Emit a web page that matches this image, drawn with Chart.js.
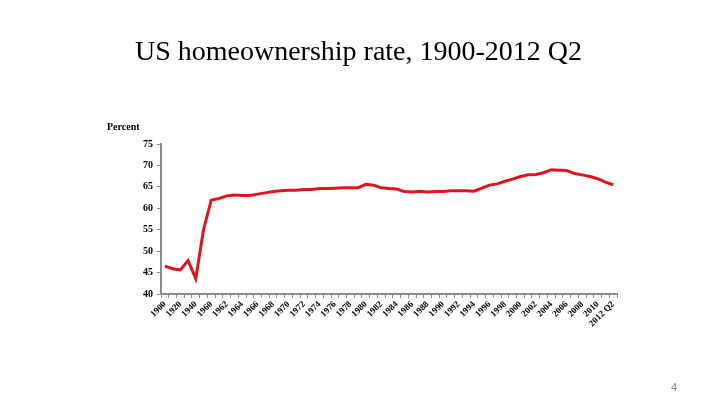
<!DOCTYPE html>
<html>
<head>
<meta charset="utf-8">
<script src="https://cdn.jsdelivr.net/npm/chart.js@4/dist/chart.umd.min.js"></script>
<style>
  html, body { margin: 0; padding: 0; background: #fff; }
  #wrap { position: relative; width: 720px; height: 405px; }
  #grafica { position: absolute; left: 0; top: 0; }
  .nota { position: absolute; white-space: nowrap; }
  #unidad { left: 107px; top: 121px; font: bold 10px "Liberation Serif", "Times New Roman", serif; color: #000; }
  #pagina { left: 671px; top: 381px; font: 11px "Liberation Sans", Arial, sans-serif; color: #7f7f7f; }
</style>
</head>
<body>
<div id="wrap">
  <canvas id="grafica" width="720" height="405"></canvas>
  <div class="nota" id="unidad">Percent</div>
  <div class="nota" id="pagina">4</div>
</div>
<script>
// Categorias: decenales hasta 1960, luego anuales, y el ultimo dato trimestral
const anios = ['1900', '1910', '1920', '1930', '1940', '1950', '1960',
  '1961', '1962', '1963', '1964', '1965', '1966', '1967', '1968', '1969', '1970',
  '1971', '1972', '1973', '1974', '1975', '1976', '1977', '1978', '1979', '1980',
  '1981', '1982', '1983', '1984', '1985', '1986', '1987', '1988', '1989', '1990',
  '1991', '1992', '1993', '1994', '1995', '1996', '1997', '1998', '1999', '2000',
  '2001', '2002', '2003', '2004', '2005', '2006', '2007', '2008', '2009', '2010',
  '2011', '2012 Q2'];

// Tasa de propiedad de vivienda (%)
const tasaPropiedad = [46.5, 45.9, 45.6, 47.8, 43.6, 55.0, 61.9,
  62.3, 62.9, 63.1, 63.0, 63.0, 63.3, 63.6, 63.9, 64.1, 64.2,
  64.2, 64.4, 64.4, 64.6, 64.6, 64.7, 64.8, 64.8, 64.8, 65.6,
  65.4, 64.8, 64.6, 64.5, 63.9, 63.8, 64.0, 63.8, 63.9, 63.9,
  64.1, 64.1, 64.1, 64.0, 64.7, 65.4, 65.7, 66.3, 66.8, 67.4,
  67.8, 67.9, 68.3, 69.0, 68.9, 68.8, 68.1, 67.8, 67.4, 66.9,
  66.1, 65.5];

const ejeY = { min: 40, max: 75, paso: 5 };

const gris = '#8c8c8c';
const serif = '"Liberation Serif", "Times New Roman", serif';

new Chart(document.getElementById('grafica'), {
    type: 'line',
    data: {
        labels: anios,
        datasets: [{
            label: 'Homeownership rate',
            data: tasaPropiedad,
            borderColor: '#e0141e',
            borderWidth: 3,
            pointRadius: 0,
            tension: 0,
            fill: false
        }]
    },
    options: {
        responsive: false,
        animation: false,
        layout: { padding: { left: 100, right: 103, top: 0, bottom: 61 } },
        plugins: {
            legend: { display: false },
            tooltip: { enabled: false },
            title: {
                display: true,
                text: 'US homeownership rate, 1900-2012 Q2',
                color: '#000',
                font: { family: serif, size: 28, weight: 'normal', lineHeight: 1.2 },
                padding: { top: 36, bottom: 74.4 }
            }
        },
        scales: {
            x: {
                offset: true,
                afterFit: (s) => { s.height = 50; },
                border: { color: gris, width: 2 },
                grid: { drawOnChartArea: false, drawTicks: true, tickLength: 4, color: gris, lineWidth: 1, offset: true },
                ticks: {
                    autoSkip: false,
                    maxRotation: 45,
                    minRotation: 45,
                    padding: 1,
                    color: '#000',
                    font: { family: serif, size: 9, weight: 'bold' },
                    callback: function (valor, i) {
                        return i % 2 === 0 ? anios[i] : '';
                    }
                }
            },
            y: {
                min: ejeY.min,
                max: ejeY.max,
                afterFit: (s) => { s.width = 61; },
                border: { color: gris, width: 2 },
                grid: { drawOnChartArea: false, drawTicks: true, tickLength: 4, color: gris, lineWidth: 1 },
                ticks: {
                    stepSize: ejeY.paso,
                    padding: 4,
                    color: '#000',
                    font: { family: serif, size: 10, weight: 'bold' }
                }
            }
        }
    }
});
</script>
</body>
</html>
